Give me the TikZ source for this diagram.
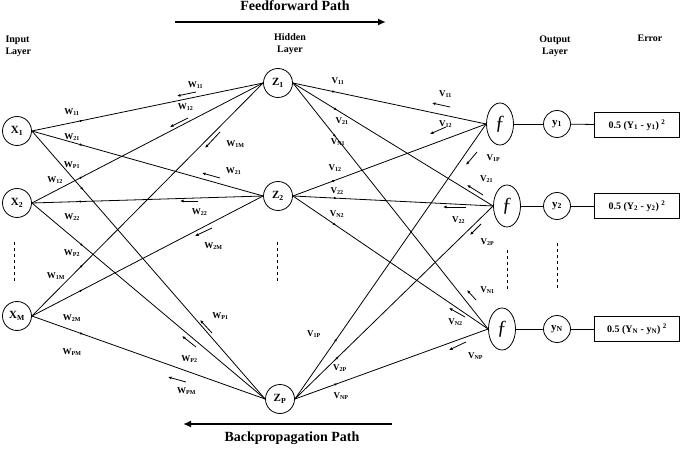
\documentclass[tikz,border=0pt]{standalone}
\usepackage{fontspec}
\setmainfont{Liberation Serif}
\usetikzlibrary{arrows.meta,decorations.markings,shapes.geometric}
\newcommand{\lb}[2]{#1\textsubscript{#2}}
\begin{document}
\begin{tikzpicture}[x=1pt,y=-1pt,
  font=\fontsize{9}{10}\selectfont\bfseries,
  neuron/.style={draw, thick, circle, minimum size=29pt, inner sep=0pt, font=\fontsize{11}{12}\selectfont\bfseries},
  act/.style={draw, thick, ellipse, minimum width=27pt, minimum height=42pt, inner sep=0pt, font=\fontsize{20}{20}\selectfont},
  err/.style={draw, thick, minimum width=85pt, minimum height=25pt, inner sep=1pt, font=\fontsize{10}{11}\selectfont\bfseries},
  link/.style={thick, postaction={decorate, decoration={markings, mark=at position 0.22 with {\arrow{Latex[length=3pt,width=2.5pt]}}}}},
  grad/.style={thick, -{Latex[length=3.5pt,width=3pt]}},
  dots/.style={thick, dashed}]
  \useasboundingbox (0,0) rectangle (685,454);

  %% titles
  \node[font=\fontsize{14}{16}\selectfont\bfseries] (ff) at (295,6) {Feedforward Path};
  \node[font=\fontsize{14}{16}\selectfont\bfseries] (bp) at (292,438) {Backpropagation Path};
  \draw[line width=2pt, -{Latex[length=8pt,width=7pt]}] (175,22) -- (386,22);
  \draw[line width=2pt, -{Latex[length=8pt,width=7pt]}] (392,424) -- (183,424);
  \node[align=left, anchor=west, font=\fontsize{10}{12}\selectfont\bfseries] (il) at (2,46) {Input\\Layer};
  \node[align=center, font=\fontsize{10}{12}\selectfont\bfseries] (hl) at (290,44) {Hidden\\Layer};
  \node[align=center, font=\fontsize{10}{12}\selectfont\bfseries] (ol) at (555,46) {Output\\Layer};
  \node[font=\fontsize{10}{12}\selectfont\bfseries] (el) at (650,38) {Error};

  %% input layer
  \node[neuron] (X1) at (17,131) {\lb{X}{1}};
  \node[neuron] (X2) at (17,203) {\lb{X}{2}};
  \node[neuron] (XM) at (17,316) {\lb{X}{M}};

  %% hidden layer
  \node[neuron] (Z1) at (278,83) {\lb{Z}{1}};
  \node[neuron] (Z2) at (278,196) {\lb{Z}{2}};
  \node[neuron] (ZP) at (280,399) {\lb{Z}{P}};

  %% output layer
  \node[act] (F1) at (500,124) {ƒ};
  \node[act] (F2) at (507,206) {ƒ};
  \node[act] (FN) at (502,329) {ƒ};
  \node[neuron, minimum size=27pt] (Y1) at (557,124) {\lb{y}{1}};
  \node[neuron, minimum size=27pt] (Y2) at (557,206) {\lb{y}{2}};
  \node[neuron, minimum size=27pt] (YN) at (557,329) {\lb{y}{N}};
  \node[err] (E1) at (637,125) {0.5 (\lb{Y}{1} - \lb{y}{1}) \textsuperscript{2}};
  \node[err] (E2) at (637,206) {0.5 (\lb{Y}{2} - \lb{y}{2}) \textsuperscript{2}};
  \node[err] (EN) at (637,329) {0.5 (\lb{Y}{N} - \lb{y}{N}) \textsuperscript{2}};

  %% connections
  \foreach \x in {X1,X2,XM}
    \foreach \z in {Z1,Z2,ZP}
      \draw[link] (\x.east) -- (\z.west);
  \foreach \z in {Z1,Z2,ZP}
    \foreach \f in {F1,F2,FN}
      \draw[link] (\z.east) -- (\f.west);
  \foreach \f/\y/\e in {F1/Y1/E1,F2/Y2/E2,FN/YN/EN} {
    \draw[thick] (\f) -- (\y);
    \draw[thick] (\y) -- (\e);
  }

  %% dashes
  \draw[dots] (14,242) -- (14,283);
  \draw[dots] (277,242) -- (277,283);
  \draw[dots] (507,250) -- (507,290);
  \draw[dots] (557,243) -- (557,290);

  %% weight labels
  \node at (72,112) {\lb{W}{11}};
  \node at (72,137) {\lb{W}{21}};
  \node at (72,165) {\lb{W}{P1}};
  \node at (55,180) {\lb{W}{12}};
  \node at (72,217) {\lb{W}{22}};
  \node at (72,253) {\lb{W}{P2}};
  \node at (56,276) {\lb{W}{1M}};
  \node at (72,318) {\lb{W}{2M}};
  \node at (72,352) {\lb{W}{PM}};
  \node at (338,81) {\lb{V}{11}};
  \node at (342,121) {\lb{V}{21}};
  \node at (338,142) {\lb{V}{N1}};
  \node at (335,168) {\lb{V}{12}};
  \node at (337,191) {\lb{V}{22}};
  \node at (337,214) {\lb{V}{N2}};
  \node at (314,334) {\lb{V}{1P}};
  \node at (340,368) {\lb{V}{2P}};
  \node at (341,396) {\lb{V}{NP}};

  %% gradient labels
  \node at (192,85) {$\mathbf{\Delta}$\lb{W}{11}};
  \node at (182,107) {$\mathbf{\Delta}$\lb{W}{12}};
  \node at (232,144) {$\mathbf{\Delta}$\lb{W}{1M}};
  \node at (230,171) {$\mathbf{\Delta}$\lb{W}{21}};
  \node at (196,212) {$\mathbf{\Delta}$\lb{W}{22}};
  \node at (210,246) {$\mathbf{\Delta}$\lb{W}{2M}};
  \node at (217,316) {$\mathbf{\Delta}$\lb{W}{P1}};
  \node at (186,359) {$\mathbf{\Delta}$\lb{W}{P2}};
  \node at (183,391) {$\mathbf{\Delta}$\lb{W}{PM}};
  \node at (442,94) {$\mathbf{\Delta}$\lb{V}{11}};
  \node at (442,124) {$\mathbf{\Delta}$\lb{V}{12}};
  \node at (490,158) {$\mathbf{\Delta}$\lb{V}{1P}};
  \node at (483,179) {$\mathbf{\Delta}$\lb{V}{21}};
  \node at (455,220) {$\mathbf{\Delta}$\lb{V}{22}};
  \node at (484,242) {$\mathbf{\Delta}$\lb{V}{2P}};
  \node at (484,290) {$\mathbf{\Delta}$\lb{V}{N1}};
  \node at (452,322) {$\mathbf{\Delta}$\lb{V}{N2}};
  \node at (472,356) {$\mathbf{\Delta}$\lb{V}{NP}};

  %% gradient arrows
  \draw[grad] (196,92) -- (177,96);
  \draw[grad] (188,118) -- (170,127);
  \draw[grad] (220,132) -- (205,148);
  \draw[grad] (220,178) -- (202,173);
  \draw[grad] (198,201) -- (180,201);
  \draw[grad] (212,228) -- (195,236);
  \draw[grad] (212,333) -- (200,320);
  \draw[grad] (196,347) -- (182,336);
  \draw[grad] (186,382) -- (168,377);
  \draw[grad] (450,107) -- (432,103);
  \draw[grad] (446,127) -- (430,134);
  \draw[grad] (477,152) -- (466,165);
  \draw[grad] (483,195) -- (467,185);
  \draw[grad] (466,207) -- (443,207);
  \draw[grad] (481,224) -- (470,235);
  \draw[grad] (476,300) -- (467,290);
  \draw[grad] (465,317) -- (449,308);
  \draw[grad] (466,342) -- (449,350);
\end{tikzpicture}
\end{document}
